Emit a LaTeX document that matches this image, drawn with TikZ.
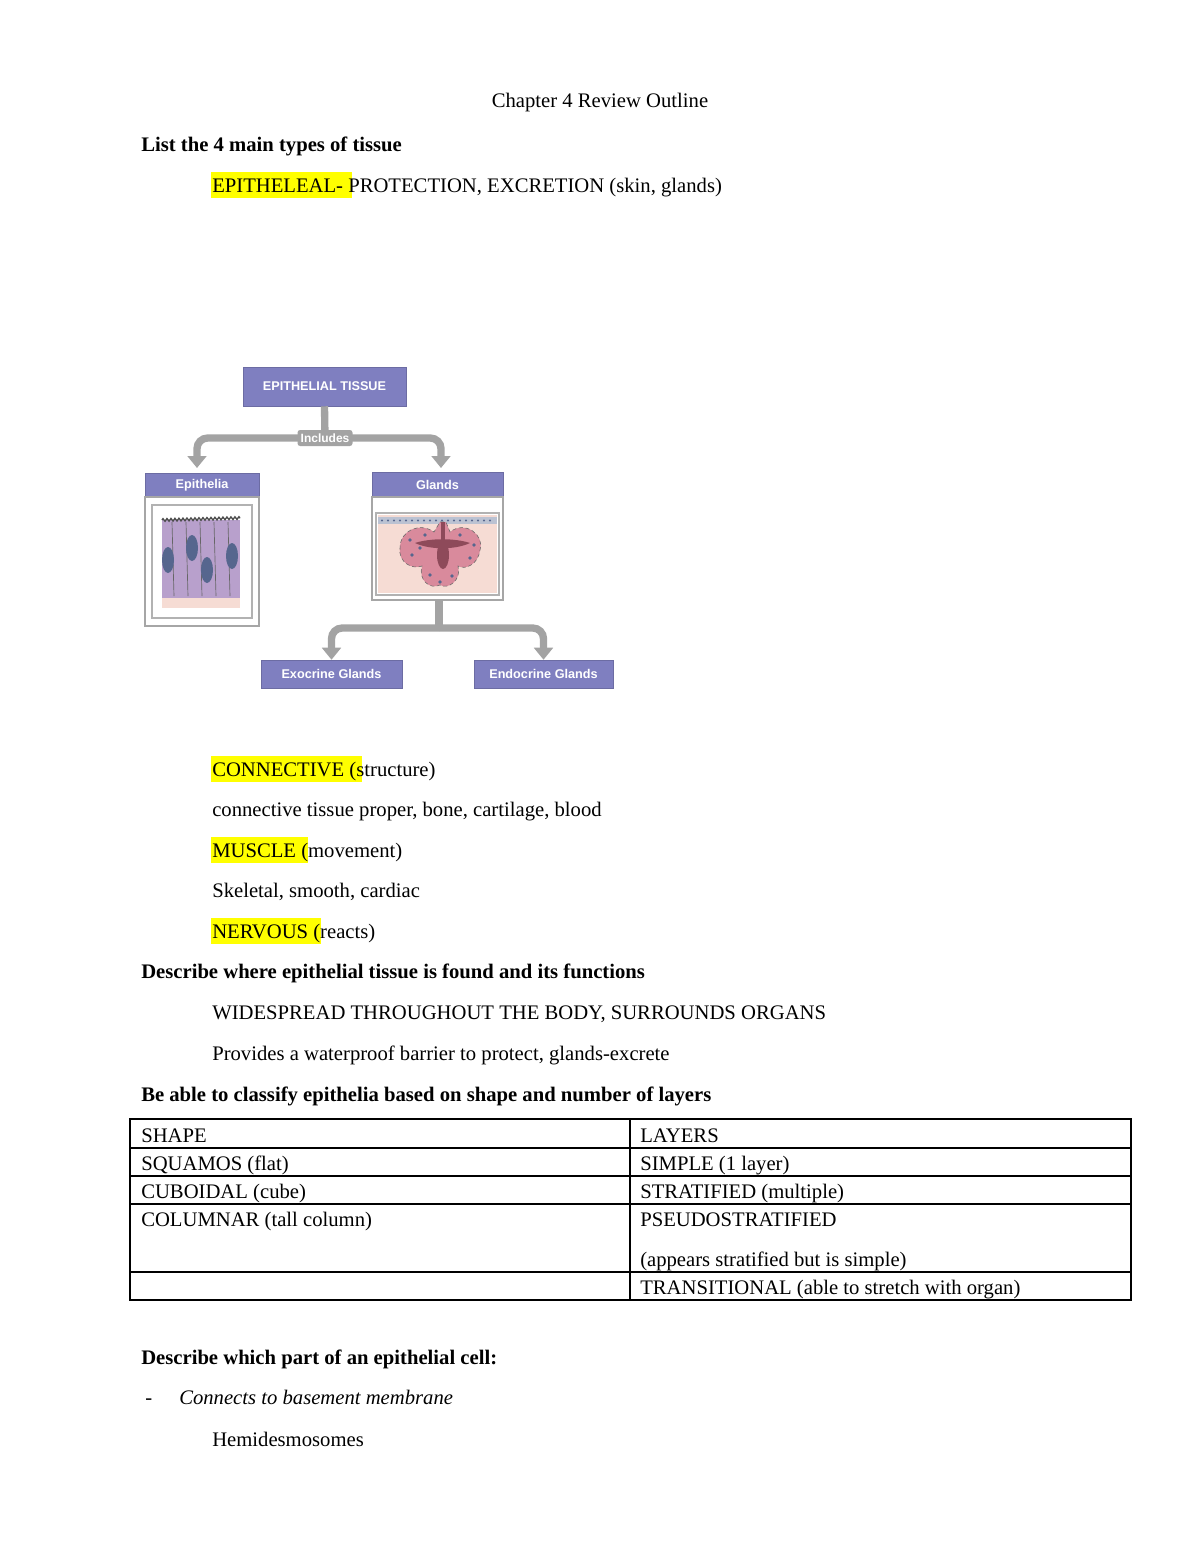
\documentclass[tikz,border=0pt]{standalone}
\usepackage{fontspec}
\setmainfont{Liberation Serif}
\newfontfamily\dsans{Liberation Sans}
\usetikzlibrary{arrows.meta,decorations.pathmorphing}
\definecolor{boxpurple}{HTML}{7F7FC0}
\definecolor{arrgray}{HTML}{A3A3A3}
\definecolor{hl}{HTML}{FFFF00}
\definecolor{lav}{HTML}{B8A0CC}
\definecolor{nuc}{HTML}{56668E}
\definecolor{pinkbg}{HTML}{F6DCD4}
\definecolor{glandpink}{HTML}{D98A9C}
\definecolor{lumen}{HTML}{8E4A5A}
\tikzset{
 txt/.style={anchor=base west,inner sep=0pt,font=\fontsize{15.5}{18}\selectfont},
 hd/.style={txt,font=\fontsize{15.5}{18}\selectfont\bfseries},
 pbox/.style={fill=boxpurple,draw=boxpurple!85!black,line width=0.4pt,text=white,font=\dsans\bfseries\fontsize{9.5}{11}\selectfont,inner sep=0pt},
 garr/.style={draw=arrgray,line width=5.5pt,rounded corners=8pt,-{Triangle[length=9pt,width=14pt]}},
 gline/.style={draw=arrgray,line width=5.5pt},
 frame/.style={draw=gray!70,line width=0.8pt,fill=white},
 cell/.style={draw=black!60,line width=0.5pt},
 tb/.style={line width=1.5pt}
}
\begin{document}
\begin{tikzpicture}[x=0.75pt,y=-0.75pt]
\useasboundingbox (0,0) rectangle (1200,1553);
\fill[white] (0,0) rectangle (1200,1553);
% text
\node[anchor=base,inner sep=0pt,font=\fontsize{15.5}{18}\selectfont] (title) at (600,107) {Chapter 4 Review Outline};
\node[hd] (q1) at (141,151) {List the 4 main types of tissue};
\fill[hl] (211,172) rectangle (352,198);
\node[txt] (epi) at (212,192) {EPITHELEAL- PROTECTION, EXCRETION (skin, glands)};
% diagram
\node[pbox,minimum width=163pt*0.75,minimum height=39pt*0.75] (et) at (324.5,386.5) {EPITHELIAL TISSUE};
\node[pbox,minimum width=114pt*0.75,minimum height=24pt*0.75] (eh) at (202,485) {Epithelia};
\node[pbox,minimum width=131pt*0.75,minimum height=25pt*0.75] (gh) at (437.5,485) {Glands};
\node[pbox,minimum width=141pt*0.75,minimum height=28pt*0.75] (ex) at (331.5,674) {Exocrine Glands};
\node[pbox,minimum width=139pt*0.75,minimum height=28pt*0.75] (en) at (543.5,674) {Endocrine Glands};
\coordinate (j1) at (325,438);
\coordinate (j2) at (439,628);
\draw[gline] (et.south) -- (j1);
\draw[garr] (j1) -| (197,468);
\draw[garr] (j1) -| (441,468);
\node[fill=arrgray,rounded corners=2pt,text=white,font=\dsans\bfseries\fontsize{9}{10}\selectfont,inner sep=1pt,minimum width=55pt*0.75,minimum height=16pt*0.75] (inc) at (j1) {Includes};
% frames
\draw[frame] (145,497) rectangle (259,626);
\draw[frame] (372,497) rectangle (503,600);
\draw[gray!60,line width=0.8pt] (152,505) rectangle (252,618);
\draw[gray!60,line width=0.8pt] (376,513) rectangle (499,595);
% epithelia picture
\fill[pinkbg] (162,588) rectangle (240,608);
\fill[lav] (162,520) rectangle (240,598);
\foreach \xx in {172,186,200,214,228} \draw[cell] (\xx,522) -- (\xx+2,596);
\draw[black!70,line width=1pt,decorate,decoration={zigzag,segment length=3pt,amplitude=1pt}] (162,520) -- (240,518);
\foreach \xx/\yy in {168/560,192/548,207/570,232/556}
  \fill[nuc] (\xx,\yy) ellipse (6 and 13);
% glands picture
\fill[pinkbg] (378,515) rectangle (497,593);
\fill[nuc!40] (378,517) rectangle (497,524);
\foreach \xx in {382,388,...,494} \fill[nuc] (\xx,520.5) circle (1.2);
\fill[glandpink,draw=black!60,densely dashed,line width=0.4pt] (440,522) -- (446,522) -- (450,532)
  .. controls (465,520) and (485,535) .. (480,550)
  .. controls (478,565) and (465,570) .. (458,566)
  .. controls (462,580) and (448,590) .. (440,585)
  .. controls (430,590) and (418,580) .. (422,566)
  .. controls (412,570) and (398,562) .. (400,548)
  .. controls (400,530) and (420,522) .. (434,532) -- cycle;
\fill[lumen] (441,522) rectangle (445,560);
\fill[lumen] (415,543) .. controls (430,538) and (455,538) .. (470,543) .. controls (455,550) and (430,550) .. (415,543);
\fill[lumen] (443,555) ellipse (6 and 14);
\foreach \xx/\yy in {410/540,425/535,460/535,474/545,412/555,470/558,430/575,452/576,440/582,420/548}
  \fill[nuc] (\xx,\yy) circle (1.8);
% lower arrows
\draw[gline] (439,600) -- (j2);
\draw[garr] (j2) -| (ex.north);
\draw[garr] (j2) -| (en.north);
% text continued
\fill[hl] (211,756) rectangle (362,782);
\node[txt] (con) at (212,776) {CONNECTIVE (structure)};
\node[txt] (conp) at (212,816) {connective tissue proper, bone, cartilage, blood};
\fill[hl] (211,837) rectangle (308,863);
\node[txt] (mus) at (212,857) {MUSCLE (movement)};
\node[txt] (musp) at (212,897) {Skeletal, smooth, cardiac};
\fill[hl] (211,918) rectangle (321,944);
\node[txt] (ner) at (212,938) {NERVOUS (reacts)};
\node[hd] (q2) at (141,978) {Describe where epithelial tissue is found and its functions};
\node[txt] (w1) at (212,1019) {WIDESPREAD THROUGHOUT THE BODY, SURROUNDS ORGANS};
\node[txt] (w2) at (212,1060) {Provides a waterproof barrier to protect, glands-excrete};
\node[hd] (q3) at (141,1101) {Be able to classify epithelia based on shape and number of layers};
% table
\draw[tb] (130,1119) rectangle (1131,1300);
\foreach \yy in {1148,1176,1204,1272} \draw[tb] (130,\yy) -- (1131,\yy);
\draw[tb] (630,1119) -- (630,1300);
\node[txt] (t1) at (141,1142) {SHAPE};
\node[txt] (t2) at (640,1142) {LAYERS};
\node[txt] (t3) at (141,1170) {SQUAMOS (flat)};
\node[txt] (t4) at (640,1170) {SIMPLE (1 layer)};
\node[txt] (t5) at (141,1198) {CUBOIDAL (cube)};
\node[txt] (t6) at (640,1198) {STRATIFIED (multiple)};
\node[txt] (t7) at (141,1226) {COLUMNAR (tall column)};
\node[txt] (t8) at (640,1226) {PSEUDOSTRATIFIED};
\node[txt] (t9) at (640,1266) {(appears stratified but is simple)};
\node[txt] (t10) at (640,1294) {TRANSITIONAL (able to stretch with organ)};
\node[hd] (q4) at (141,1364) {Describe which part of an epithelial cell:};
\node[txt] (d) at (145,1404) {-};
\node[txt,font=\fontsize{15.5}{18}\selectfont\itshape] (c1) at (179,1404) {Connects to basement membrane};
\node[txt] (h) at (212,1446) {Hemidesmosomes};
\end{tikzpicture}
\end{document}
